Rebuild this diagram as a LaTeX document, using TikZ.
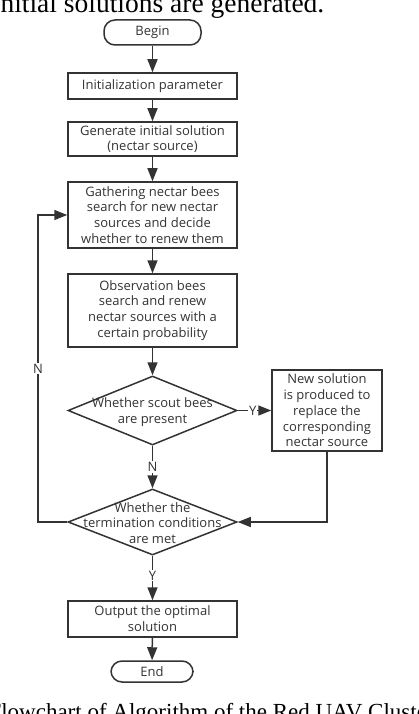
\documentclass[tikz,border=0pt]{standalone}
\usepackage{fontspec}
\setmainfont{Open Sans}
\newfontfamily\capfont{Liberation Serif}
\usepackage{tikz}
\usetikzlibrary{shapes.geometric, arrows.meta}
\definecolor{ink}{HTML}{333333}

\begin{document}
\begin{tikzpicture}[x=1pt, y=-1pt,
    every node/.style={font=\fontsize{13}{15.8}\selectfont, text=ink, align=center},
    box/.style={draw=ink, line width=1.5pt, minimum width=169pt, inner sep=0pt},
    term/.style={draw=ink, line width=1.5pt, rounded corners=11pt, inner sep=0pt},
    decision/.style={draw=ink, line width=1.5pt, diamond, minimum width=169pt, inner sep=0pt},
    arr/.style={-{Triangle[length=13pt, width=10pt]}, line width=1.5pt, draw=ink},
    lbl/.style={fill=white, inner sep=1pt}]
            \useasboundingbox (0, 0) rectangle (418, 714);
            \clip (0, 0) rectangle (418, 714);
            % cut text of the page around the figure
            \node[anchor=base west, text=black, font=\capfont\fontsize{27.5}{27.5}\selectfont] (pagetext) at (-3, 13) {nitial solutions are generated.};
            \node[anchor=base west, text=black, font=\capfont\fontsize{23}{23}\selectfont] (caption) at (-15, 719) {Flowchart of Algorithm of the Red UAV Cluster};
            % flowchart
            \node[term, minimum width=97pt, minimum height=25pt] (begin) at (152.5, 32.5) {Begin};
            \node[box, minimum height=26pt] (init) at (152.5, 86) {Initialization parameter};
            \node[box, minimum height=34pt] (gen) at (152.5, 139) {Generate initial solution\\(nectar source)};
            \node[box, minimum height=66pt] (gather) at (152.5, 215) {Gathering nectar bees\\search for new nectar\\sources and decide\\whether to renew them};
            \node[box, minimum height=73pt] (obs) at (152.5, 310.5) {Observation bees\\search and renew\\nectar sources with a\\certain probability};
            \node[decision, minimum height=69pt] (scout) at (152.5, 410.5) {};
            \node (scouttext) at (152.5, 412) {Whether scout bees\\are present};
            \node[box, minimum width=110pt, minimum height=81pt] (newsol) at (327, 410.5) {New solution\\is produced to\\replace the\\corresponding\\nectar source};
            \node[decision, minimum height=66pt] (stop) at (152.5, 522) {};
            \node (stoptext) at (152.5, 523) {Whether the\\termination conditions\\are met};
            \node[box, minimum height=36pt] (output) at (152.5, 619) {Output the optimal\\solution};
            \node[term, minimum width=82pt, minimum height=21pt] (end) at (152, 671.5) {End};
            \coordinate (loop) at (38, 215);
            \draw[arr] (begin) -- (init);
            \draw[arr] (init) -- (gen);
            \draw[arr] (gen) -- (gather);
            \draw[arr] (gather) -- (obs);
            \draw[arr] (obs) -- (scout);
            \draw[arr] (scout.east) -- node[lbl, pos=0.45]{Y} (newsol.west);
            \draw[arr] (scout.south) -- node[lbl]{N} (stop.north);
            \draw[arr] (newsol.south) |- (stop.east);
            \draw[arr] (stop.west) -| node[lbl, pos=0.75]{N} (loop) -- (gather.west);
            \draw[arr] (stop.south) -- node[lbl, pos=0.45]{Y} (output.north);
            \draw[arr] (output) -- (end);
        \end{tikzpicture}
\end{document}
